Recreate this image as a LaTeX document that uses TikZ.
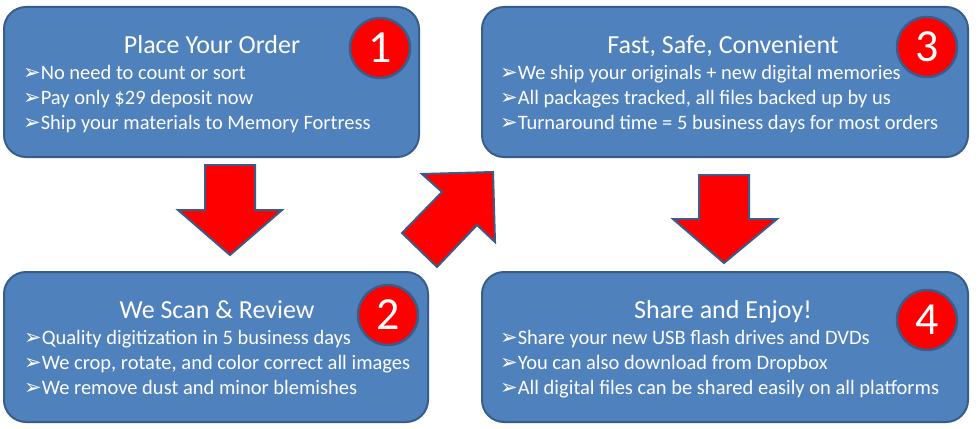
\documentclass[tikz,border=0pt]{standalone}
\usepackage{fontspec}
\setmainfont{Carlito}
\newfontfamily\bulfont{DejaVu Sans}
\definecolor{boxblue}{HTML}{4F81BD}
\definecolor{edgeblue}{HTML}{385D8A}
\tikzset{
 stagebox/.style={draw=edgeblue, line width=2pt, fill=boxblue, rounded corners=22pt, minimum width=#1, minimum height=150pt, inner sep=0pt},
 numdisc/.style={circle, draw=edgeblue, line width=2.5pt, fill=red, minimum size=60pt, inner sep=0pt, text=white, font=\fontsize{46}{46}\selectfont},
 titletext/.style={anchor=base, text=white, inner sep=0pt, font=\fontsize{26}{26}\selectfont},
 bullettext/.style={anchor=base west, text=white, inner sep=0pt, font=\fontsize{20.5}{20.5}\selectfont},
 blockarrow/.style={draw=edgeblue, line width=2pt, fill=red, line join=miter},
}
\newcommand{\bul}{{\bulfont\fontsize{21}{21}\selectfont ➢}}
\begin{document}
\begin{tikzpicture}[x=1pt,y=-1pt]
\useasboundingbox (0,0) rectangle (979,428);
\fill[white] (0,0) rectangle (979,428);
% boxes
\node[stagebox=415pt] (b1) at (211.5,82) {};
\node[stagebox=424pt] (b2) at (216,347) {};
\node[stagebox=486pt] (b3) at (725,82) {};
\node[stagebox=486pt] (b4) at (725,347) {};
% number discs
\node[numdisc] (n1) at (380,48) {1};
\node[numdisc] (n2) at (388,315) {2};
\node[numdisc] (n3) at (927,47) {3};
\node[numdisc] (n4) at (927,320) {4};
% box 1
\node[titletext] (t1) at (212,53) {Place Your Order};
\node[bullettext] (t1a) at (23,79) {\bul No need to count or sort};
\node[bullettext] (t1b) at (23,104) {\bul Pay only \$29 deposit now};
\node[bullettext] (t1c) at (23,129) {\bul Ship your materials to Memory Fortress};
% box 2
\node[titletext] (t2) at (217,318) {We Scan \& Review};
\node[bullettext] (t2a) at (24,344) {\bul Quality digitization in 5 business days};
\node[bullettext] (t2b) at (24,369) {\bul We crop, rotate, and color correct all images};
\node[bullettext] (t2c) at (24,394) {\bul We remove dust and minor blemishes};
% box 3
\node[titletext] (t3) at (723,53) {Fast, Safe, Convenient};
\node[bullettext] (t3a) at (500,79) {\bul We ship your originals + new digital memories};
\node[bullettext] (t3b) at (500,104) {\bul All packages tracked, all files backed up by us};
\node[bullettext] (t3c) at (500,129) {\bul Turnaround time = 5 business days for most orders};
% box 4
\node[titletext] (t4) at (723,318) {Share and Enjoy!};
\node[bullettext] (t4a) at (500,344) {\bul Share your new USB flash drives and DVDs};
\node[bullettext] (t4b) at (500,369) {\bul You can also download from Dropbox};
\node[bullettext] (t4c) at (500,394) {\bul All digital files can be shared easily on all platforms};
% block arrows
\draw[blockarrow] (205,165) -- (255,165) -- (255,210) -- (282,210) -- (230,255) -- (178,210) -- (205,210) -- cycle;
\draw[blockarrow] (699,175) -- (749,175) -- (749,219) -- (777,219) -- (724,263) -- (673,219) -- (699,219) -- cycle;
\draw[blockarrow] (493,172) -- (495,242) -- (477,225) -- (437,267) -- (402,233) -- (442,192) -- (422,174) -- cycle;
\end{tikzpicture}
\end{document}
